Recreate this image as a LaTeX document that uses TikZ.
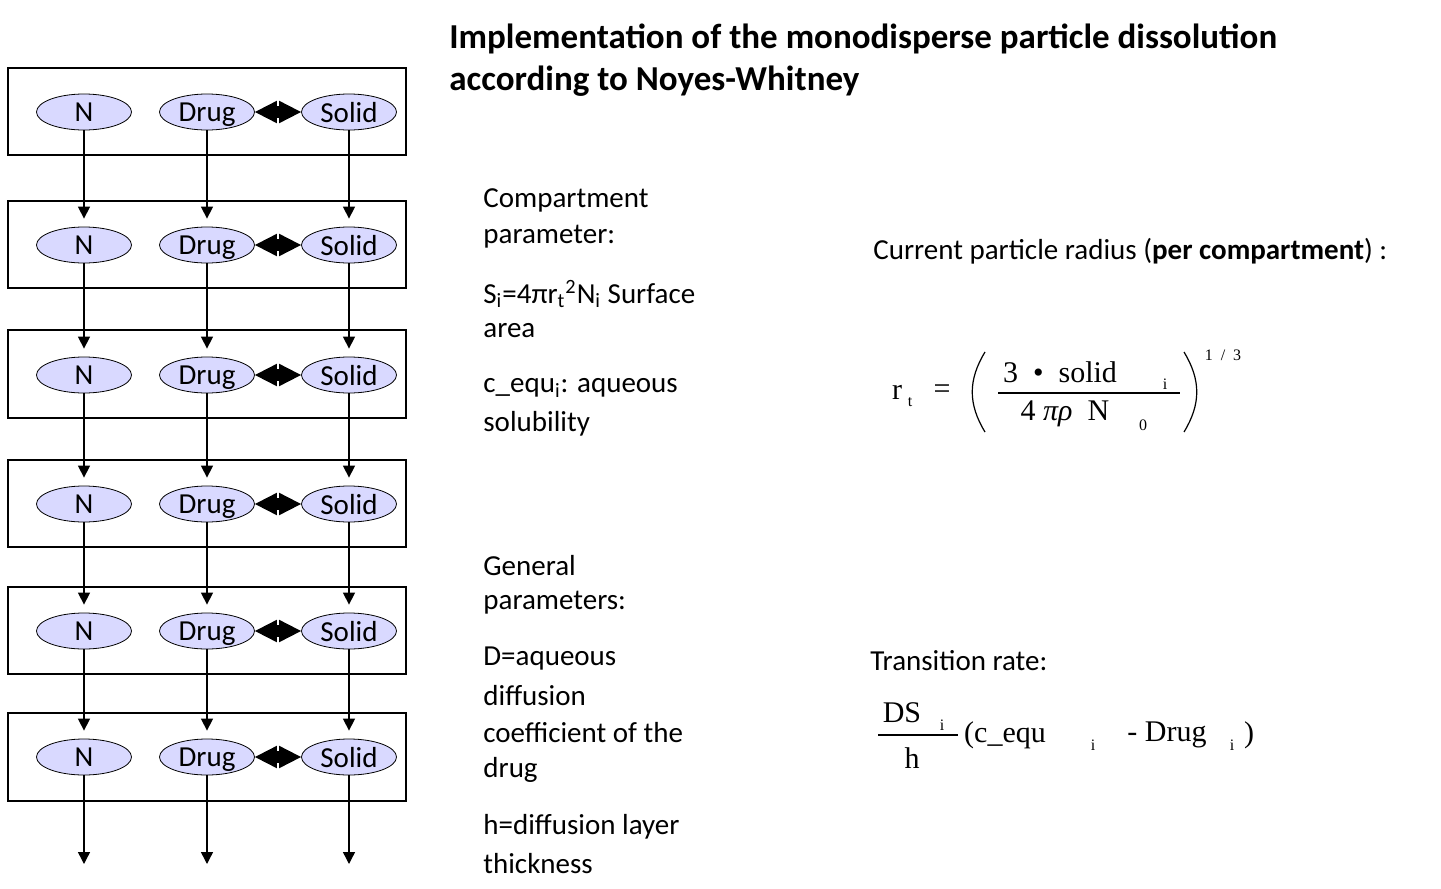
\documentclass[tikz,border=0pt]{standalone}
\usepackage{fontspec}
\setmainfont{Carlito}
\newfontfamily\tms{Liberation Serif}
\usetikzlibrary{arrows.meta,shapes.geometric,calc}
\begin{document}
\begin{tikzpicture}[x=0.5pt,y=-0.5pt,
  box/.style={draw,line width=1pt},
  el/.style={ellipse,draw,fill=blue!15,minimum width=47.5pt,minimum height=18pt,inner sep=0pt,text depth=0pt,font=\fontsize{14.5}{16}\selectfont},
  flow/.style={-{Triangle[length=6pt,width=6pt]},line width=0.7pt},
  dbl/.style={{Triangle[length=11pt,width=11pt]}-{Triangle[length=11pt,width=11pt]},line width=1pt},
  txt/.style={anchor=west,inner sep=0pt,font=\fontsize{14.5}{16}\selectfont},
  tt/.style={inner sep=0pt,font=\tms\fontsize{15}{17}\selectfont},
  ts/.style={inner sep=0pt,font=\tms\fontsize{8}{9}\selectfont}]
\useasboundingbox (0,0) rectangle (1441,889);
\foreach \i/\t/\b/\c in {1/68/155/112,2/201/288/245,3/330/418/375,4/460/547/504,5/587/674/631,6/713/801/757}{
  \draw[box] (8,\t) rectangle (406,\b);
  \node[el] (n\i) at (84,\c) {N};
  \node[el] (d\i) at (207,\c) {Drug};
  \node[el] (s\i) at (349,\c) {Solid};
  \draw[dbl] (d\i) -- (s\i);
  \draw[line width=1pt] ($(d\i.east)!0.5!(s\i.west)+(0,-6)$) -- ++(0,12);
}
\foreach \i/\j in {1/2,2/3,3/4,4/5,5/6}{
  \draw[flow] (n\i) -- ([yshift=4pt]n\j.north);
  \draw[flow] (d\i) -- ([yshift=4pt]d\j.north);
  \draw[flow] (s\i) -- ([yshift=4pt]s\j.north);
}
\coordinate (en) at (84,864); \coordinate (ed) at (207,864); \coordinate (es) at (349,864);
\draw[flow] (n6) -- (en); \draw[flow] (d6) -- (ed); \draw[flow] (s6) -- (es);

\node[anchor=west,inner sep=0pt,font=\bfseries\fontsize{17.5}{19}\selectfont] (t1) at (449,39) {Implementation of the monodisperse particle dissolution};
\node[anchor=west,inner sep=0pt,font=\bfseries\fontsize{17.5}{19}\selectfont] (t2) at (449,81) {according to Noyes-Whitney};

\node[txt] (a1) at (483,200) {Compartment};
\node[txt] (a2) at (483,237) {parameter:};
\node[txt] (a3) at (483,294) {S\textsubscript{i}=4πr\textsubscript{t}\textsuperscript{2}N\textsubscript{i} Surface};
\node[txt] (a4) at (483,331) {area};
\node[txt] (a5) at (483,388) {c\_equ\textsubscript{i}: aqueous};
\node[txt] (a6) at (483,424) {solubility};
\node[txt] (b1) at (483,566) {General};
\node[txt] (b2) at (483,603) {parameters:};
\node[txt] (b3) at (483,659) {D=aqueous};
\node[txt] (b4) at (483,696) {diffusion};
\node[txt] (b5) at (483,733) {coefficient of the};
\node[txt] (b6) at (483,770) {drug};
\node[txt] (b7) at (483,827) {h=diffusion layer};
\node[txt] (b8) at (483,864) {thickness};

\node[txt] (c1) at (873,251) {Current particle radius (\textbf{per compartment}) :};
\node[txt] (c2) at (870,661) {Transition rate:};

% radius formula
\node[tt] (r) at (897,392) {r};
\node[ts] (rt) at (910,402) {t};
\node[tt] (eq) at (942,392) {=};
\draw[line width=0.6pt] (985,352) .. controls (968,380) and (968,404) .. (985,432);
\draw[line width=0.6pt] (1184,352) .. controls (1201,380) and (1201,404) .. (1184,432);
\node[tt] (num) at (1060,372) {3\ \ \textbullet\ \ solid};
\node[ts] (ni) at (1165,384) {i};
\draw[line width=0.6pt] (998,393) -- (1180,393);
\node[tt] (den) at (1065,414) {4\ \textit{πρ}\ \ N};
\node[ts] (d0) at (1143,425) {0};
\node[ts] (ex) at (1223,355) {1\ \ /\ \ 3};

% transition rate formula
\node[tt] (ds) at (902,713) {DS};
\node[ts] (dsi) at (942,725) {i};
\draw[line width=0.6pt] (878,735) -- (958,735);
\node[tt] (hh) at (912,758) {h};
\node[tt] (ce) at (1005,735) {(c\_equ};
\node[ts] (cei) at (1093,745) {i};
\node[tt] (dr) at (1167,735) {- Drug};
\node[ts] (dri) at (1232,745) {i};
\node[tt] (cp) at (1249,735) {)};
\end{tikzpicture}
\end{document}
